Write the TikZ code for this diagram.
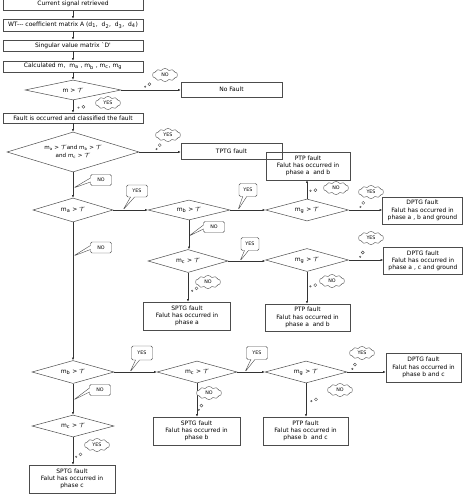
\documentclass[tikz,border=0pt]{standalone}
\usepackage{fontspec}
\usetikzlibrary{shapes.geometric,shapes.symbols,shapes.callouts,arrows.meta,calc}
\newfontfamily\dvsans{DejaVu Sans}
\newcommand\dfs{\dvsans\fontsize{6}{7.2}\selectfont}
\newcommand\dfsm{\dvsans\fontsize{4.8}{5.5}\selectfont}
\newcommand\TT{$\mathcal{T}$}
\newcommand\mm[1]{m\textsubscript{#1}}
\newcommand\bubbles[2]{%
  \draw[bub] ($(#2)!2.5pt!(#1.center)$) circle[radius=0.8pt];
  \draw[bub] ($(#2)!7.5pt!(#1.center)$) circle[radius=1.5pt];}
\tikzset{
 conn/.style={draw=black!80, line width=0.5pt},
 arr/.style={conn, -{Latex[length=2.6pt,width=2.2pt]}},
 box/.style={draw=black!70, line width=0.5pt, rectangle, inner sep=0pt, align=center, font=\dfs},
 dia/.style={draw=black!70, line width=0.5pt, shape=diamond, inner sep=0pt, align=center, font=\dfs},
 cld/.style={cloud, draw=black!70, line width=0.4pt, cloud puffs=10, cloud puff arc=110, aspect=1.9, inner sep=0.3pt, font=\dfsm, minimum width=25pt, minimum height=13pt, fill=white},
 bub/.style={draw=black!70, line width=0.4pt, fill=white},
 clt/.style={rectangle callout, draw=black!70, line width=0.4pt, rounded corners=1.5pt, inner sep=0pt, minimum width=21pt, minimum height=11pt, font=\dfsm, fill=white, callout pointer width=4pt},
}
\begin{document}
\begin{tikzpicture}[x=1pt,y=-1pt]
\useasboundingbox (0,0) rectangle (474,494);
% boxes top column
\node[box, minimum width=140pt, minimum height=13pt] (b1) at (73,4) {Current signal retrieved};
\node[box, minimum width=140pt, minimum height=12pt] (b2) at (73,25) {WT--- coefficient matrix A (d\textsubscript{1}, \ d\textsubscript{2}, \ d\textsubscript{3}, \ d\textsubscript{4})};
\node[box, minimum width=140pt, minimum height=11pt] (b3) at (73,45.5) {Singular value matrix `D'};
\node[box, minimum width=140pt, minimum height=11pt] (b4) at (73,66.5) {Calculated m, \ \mm{a} , \mm{b} , \mm{c}, \mm{g}};
\node[dia, aspect=4.8, minimum width=96pt, minimum height=20pt] (d1) at (73,90) {m > \TT};
\node[box, minimum width=101pt, minimum height=15pt] (nf) at (231.5,89.5) {No Fault};
\node[box, minimum width=140pt, minimum height=10pt] (b5) at (73,118) {Fault is occurred and classified the fault};
\node[dia, aspect=3.3, minimum width=132pt, minimum height=40pt, font=\dvsans\fontsize{5.6}{7.5}\selectfont] (d2) at (73,152) {\mm{a} > \TT and \mm{b} > \TT\\[1pt]and \mm{c} > \TT};
\node[box, minimum width=101pt, minimum height=16pt] (tptg) at (231.5,151) {TPTG fault};
% row 1
\node[dia, aspect=3.3, minimum width=80pt, minimum height=24pt] (d3) at (73,210) {\mm{a} > \TT};
\node[dia, aspect=4.1, minimum width=82pt, minimum height=20pt] (d4) at (189,210) {\mm{b} > \TT};
\node[dia, aspect=3.8, minimum width=83pt, minimum height=22pt] (d5) at (307,210) {\mm{g} > \TT};
\node[box, minimum width=84pt, minimum height=28pt] (ptp1) at (308,166) {PTP fault\\Falut has occurred in\\phase a \ and b};
\node[box, minimum width=80pt, minimum height=27pt] (dptg1) at (422.5,210.5) {DPTG fault\\Falut has occurred in\\phase a , b and ground};
% row 2
\node[dia, aspect=3.5, minimum width=80pt, minimum height=23pt] (d6) at (188,261) {\mm{c} > \TT};
\node[dia, aspect=3.6, minimum width=83pt, minimum height=23pt] (d7) at (307,260) {\mm{g} > \TT};
\node[box, minimum width=79pt, minimum height=27pt] (dptg2) at (423,261) {DPTG fault\\Falut has occurred in\\phase a , c and ground};
\node[box, minimum width=87pt, minimum height=28pt] (sptga) at (187,316) {SPTG fault\\Falut has occurred in\\phase a};
\node[box, minimum width=85pt, minimum height=27pt] (ptp2) at (307.5,317.5) {PTP fault\\Falut has occurred in\\phase a \ and b};
% row 3
\node[dia, aspect=3.6, minimum width=82pt, minimum height=23pt] (d8) at (73,372) {\mm{b} > \TT};
\node[dia, aspect=3.6, minimum width=80pt, minimum height=22pt] (d9) at (197,372) {\mm{c} > \TT};
\node[dia, aspect=3.7, minimum width=82pt, minimum height=22pt] (d11) at (306,372) {\mm{g} > \TT};
\node[box, minimum width=75pt, minimum height=29pt] (dptg3) at (423.5,367.5) {DPTG fault\\Falut has occurred in\\phase b and c};
\node[box, minimum width=87pt, minimum height=28pt] (sptgb) at (196.5,431) {SPTG fault\\Falut has occurred in\\phase b};
\node[box, minimum width=85pt, minimum height=28pt] (ptp3) at (305.5,431) {PTP fault\\Falut has occurred in\\phase b \ and c};
\node[dia, aspect=3.7, minimum width=82pt, minimum height=22pt] (d10) at (73,426) {\mm{c} > \TT};
\node[box, minimum width=86pt, minimum height=28pt] (sptgc) at (72,479) {SPTG fault\\Falut has occurred in\\phase c};
% connectors
\draw[arr] (b1) -- (b2);
\draw[arr] (b2) -- (b3);
\draw[arr] (b3) -- (b4);
\draw[arr] (b4) -- (d1);
\draw[arr] (d1) -- (b5);
\draw[arr] (d1.east) -- (nf.west |- d1.east);
\draw[arr] (b5) -- (d2);
\draw[arr] (d2.east) -- (tptg.west |- d2.east);
\draw[arr] (d2) -- (d3);
\draw[arr] (d3) -- (d4);
\draw[arr] (d4) -- (d5);
\draw[arr] (d5.north) -- (d5.north |- ptp1.south);
\draw[arr] (d5.east) -- (dptg1.west |- d5.east);
\draw[arr] (d4.south) -- (d4.south |- d6.north);
\draw[arr] (d6.east) -- (d7.west |- d6.east);
\draw[arr] (d7.east) -- (dptg2.west |- d7.east);
\draw[arr] (d6.south) -- (d6.south |- sptga.north);
\draw[arr] (d7.south) -- (d7.south |- ptp2.north);
\draw[arr] (d3) -- (d8);
\draw[arr] (d8) -- (d9);
\draw[arr] (d9) -- (d11);
\draw[arr] (d11.east) -- (dptg3.west |- d11.east);
\draw[arr] (d11.south) -- (d11.south |- ptp3.north);
\draw[arr] (d9.south) -- (d9.south |- sptgb.north);
\draw[arr] (d8) -- (d10);
\draw[arr] (d10.south) -- (d10.south |- sptgc.north);
% pointer targets
\coordinate (p1) at (143,88);
\coordinate (p2) at (76,108);
\coordinate (p3) at (155,151);
\coordinate (p4) at (73.5,188);
\coordinate (p5) at (123,210);
\coordinate (p6) at (189,236);
\coordinate (p7) at (73.5,256);
\coordinate (p8) at (238,210);
\coordinate (p9) at (308,191);
\coordinate (p10) at (359,209);
\coordinate (p11) at (240,261);
\coordinate (p12) at (359,259);
\coordinate (p13) at (190,292);
\coordinate (p14) at (308,287);
\coordinate (p15) at (130,372);
\coordinate (p16) at (245,372);
\coordinate (p17) at (351,371);
\coordinate (p18) at (309,402);
\coordinate (p19) at (197.5,412);
\coordinate (p20) at (73.5,400);
\coordinate (p21) at (74,458);
% labels
\node[cld] (n1) at (165,75) {NO};
\node[cld] (n2) at (108,103) {YES};
\node[cld] (n3) at (168,135) {YES};
\node[clt, callout absolute pointer={(p4)}] (n4) at (101,180) {NO};
\node[clt, callout absolute pointer={(p5)}, minimum height=12pt] (n5) at (137,191) {YES};
\node[clt, callout absolute pointer={(p6)}] (n6) at (214,227) {NO};
\node[clt, callout absolute pointer={(p7)}] (n7) at (101,247.5) {NO};
\node[clt, callout absolute pointer={(p8)}, minimum height=13pt, minimum width=18pt] (n8) at (248,190) {YES};
\node[cld] (n9) at (336,188) {NO};
\node[cld] (n10) at (371,192) {YES};
\node[clt, callout absolute pointer={(p11)}, minimum height=13pt, minimum width=18pt] (n11) at (250,244) {YES};
\node[cld] (n12) at (371,238) {YES};
\node[cld] (n13) at (208,282) {NO};
\node[cld] (n14) at (332,281) {NO};
\node[clt, callout absolute pointer={(p15)}, minimum height=14pt] (n15) at (142,353) {YES};
\node[clt, callout absolute pointer={(p16)}, minimum height=13pt] (n16) at (257,353) {YES};
\node[cld] (n17) at (362,353) {YES};
\node[cld] (n18) at (340,390) {NO};
\node[cld] (n19) at (209,393) {NO};
\node[clt, callout absolute pointer={(p20)}] (n20) at (100,390) {NO};
\node[cld] (n21) at (97,445) {YES};
% thought bubbles
\bubbles{n1}{p1}
\bubbles{n2}{p2}
\bubbles{n3}{p3}
\bubbles{n9}{p9}
\bubbles{n10}{p10}
\bubbles{n12}{p12}
\bubbles{n13}{p13}
\bubbles{n14}{p14}
\bubbles{n17}{p17}
\bubbles{n18}{p18}
\bubbles{n19}{p19}
\bubbles{n21}{p21}
\end{tikzpicture}
\end{document}
